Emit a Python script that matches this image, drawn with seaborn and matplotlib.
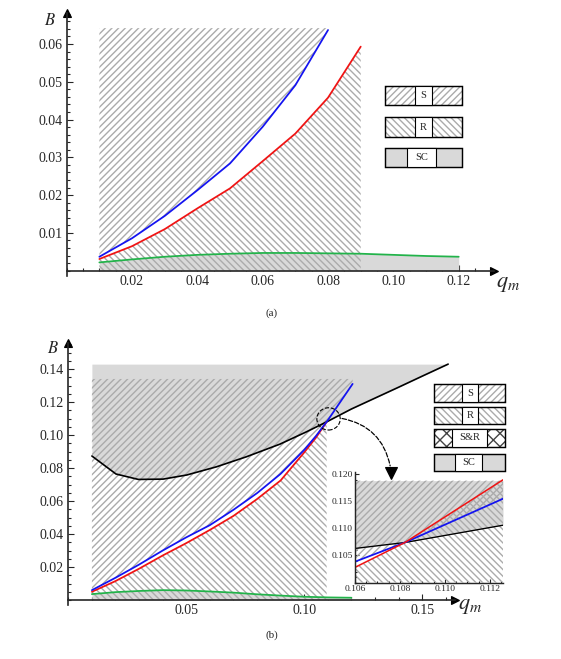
import matplotlib
matplotlib.use("Agg")
import matplotlib.pyplot as plt
import seaborn as sns
from matplotlib.patches import Rectangle, Ellipse, FancyArrowPatch
from matplotlib.ticker import MultipleLocator, FixedLocator, FormatStrFormatter

# ---- panel (a) data ----
QA_BLUE = [0.01, 0.02, 0.03, 0.04, 0.05, 0.06, 0.07, 0.08]
BA_BLUE = [0.0037, 0.0086, 0.0145, 0.0213, 0.0284, 0.0381, 0.0491, 0.0637]
QA_RED = [0.01, 0.02, 0.03, 0.04, 0.05, 0.06, 0.07, 0.08, 0.09]
BA_RED = [0.0031, 0.0065, 0.0110, 0.0165, 0.0218, 0.0290, 0.0363, 0.0458, 0.0593]
QA_GREEN = [0.01, 0.02, 0.03, 0.04, 0.05, 0.06, 0.07, 0.08, 0.09, 0.10, 0.11, 0.12]
BA_GREEN = [0.0022, 0.0030, 0.0037, 0.0042, 0.0045, 0.0047, 0.0047, 0.0046,
            0.0045, 0.0042, 0.0039, 0.0037]
A_S_TOP = 0.0642
A_XTICKS = [0.02, 0.04, 0.06, 0.08, 0.10, 0.12]
A_YTICKS = [0.01, 0.02, 0.03, 0.04, 0.05, 0.06]

# ---- panel (b) data ----
QB_BLUE = [0.01, 0.02, 0.03, 0.04, 0.05, 0.06, 0.07, 0.08, 0.09, 0.10,
           0.105, 0.11, 0.1205]
BB_BLUE = [0.0060, 0.0135, 0.0215, 0.0300, 0.0380, 0.0454, 0.0547, 0.0648,
           0.0765, 0.0910, 0.0995, 0.1090, 0.1310]
QB_RED = [0.01, 0.02, 0.03, 0.04, 0.05, 0.06, 0.07, 0.08, 0.09, 0.10,
          0.105, 0.1095]
BB_RED = [0.0050, 0.0115, 0.0190, 0.0270, 0.0345, 0.0425, 0.0510, 0.0612,
          0.0725, 0.0895, 0.0985, 0.1080]
QB_GREEN = [0.01, 0.02, 0.03, 0.04, 0.05, 0.06, 0.07, 0.08, 0.09, 0.10,
            0.11, 0.12]
BB_GREEN = [0.0036, 0.0048, 0.0055, 0.0060, 0.0058, 0.0052, 0.0045, 0.0035,
            0.0027, 0.0020, 0.0016, 0.0014]
QB_BLACK = [0.01, 0.0202, 0.0297, 0.0402, 0.0502, 0.0629, 0.0756, 0.0897,
            0.101, 0.1095, 0.12, 0.13, 0.14, 0.15, 0.161]
BB_BLACK = [0.0873, 0.0764, 0.0731, 0.0733, 0.0758, 0.0808, 0.0869, 0.0945,
            0.1020, 0.1080, 0.1158, 0.1224, 0.1290, 0.1357, 0.1430]
B_S_TOP = 0.134
B_SC_TOP = 0.143
B_XTICKS = [0.05, 0.10, 0.15]
B_YTICKS = [0.02, 0.04, 0.06, 0.08, 0.10, 0.12, 0.14]

# ---- inset data ----
QI = [0.106, 0.10822, 0.11258]
BI_BLACK = [0.1063, 0.1074, 0.1106]
BI_BLUE = [0.10385, 0.1074, 0.1155]
BI_RED = [0.1028, 0.1074, 0.1190]
I_TOP = 0.11885
I_BOTTOM = 0.100
I_XTICKS = [0.106, 0.108, 0.110, 0.112]
I_YTICKS = [0.105, 0.110, 0.115, 0.120]

BLUE = "#1414f0"
RED = "#f01414"
GREEN = "#22b34a"
GRAY = "#d9d9d9"
HATCH_COLOR = "#ababab"
S_HATCH = "////"
R_HATCH = "\\\\\\\\"

sns.set_style("ticks")
plt.rcParams["font.family"] = "serif"
plt.rcParams["font.serif"] = ["Liberation Serif", "DejaVu Serif"]
plt.rcParams["mathtext.fontset"] = "stix"
plt.rcParams["hatch.linewidth"] = 1.25
plt.rcParams["hatch.color"] = HATCH_COLOR

W, H, DPI = 561, 659, 80
fig = plt.figure(figsize=(W / DPI, H / DPI), dpi=DPI)


def px_axes(left, right, top, bottom):
    return fig.add_axes([left / W, 1 - bottom / H,
                         (right - left) / W, (bottom - top) / H])


def style_axes(ax, lw=1.5, major=5, minor=3, size=12.5):
    for s in ["top", "right"]:
        ax.spines[s].set_visible(False)
    ax.spines["left"].set_linewidth(lw)
    ax.spines["bottom"].set_linewidth(lw)
    ax.tick_params(which="both", direction="in", width=1, labelsize=size)
    ax.tick_params(which="major", length=major, pad=4)
    ax.tick_params(which="minor", length=minor)
    ax.set_facecolor("white")


def axis_arrows(ax):
    ax.plot(1, 0, ">k", ms=7, transform=ax.get_yaxis_transform(), clip_on=False)
    ax.plot(0, 1, "^k", ms=7, transform=ax.get_xaxis_transform(), clip_on=False)


def hatch_fill(ax, x, y1, y2, pattern):
    ax.fill_between(x, y1, y2, facecolor="none", edgecolor=HATCH_COLOR,
                    hatch=pattern, linewidth=0)


def curve(ax, x, y, color, lw=1.6):
    sns.lineplot(x=x, y=y, color=color, lw=lw, ax=ax, sort=False,
                 estimator=None)


# ---------------- panel (a) ----------------
ax_a = px_axes(66.7, 494, 13, 276.4)
ax_a.set_xlim(0, 0.1308)
ax_a.set_ylim(-0.0015, 0.0682)
style_axes(ax_a)
ax_a.spines["bottom"].set_position(("data", 0))

ax_a.fill_between(QA_GREEN, 0, BA_GREEN, color=GRAY, linewidth=0)
hatch_fill(ax_a, QA_BLUE, BA_BLUE, A_S_TOP, S_HATCH)
hatch_fill(ax_a, QA_RED, 0, BA_RED, R_HATCH)
curve(ax_a, QA_GREEN, BA_GREEN, GREEN)
curve(ax_a, QA_RED, BA_RED, RED)
curve(ax_a, QA_BLUE, BA_BLUE, BLUE)

ax_a.xaxis.set_major_locator(FixedLocator(A_XTICKS))
ax_a.xaxis.set_minor_locator(MultipleLocator(0.005))
ax_a.yaxis.set_major_locator(FixedLocator(A_YTICKS))
ax_a.yaxis.set_minor_locator(MultipleLocator(0.002))
ax_a.xaxis.set_major_formatter(FormatStrFormatter("%.2f"))
ax_a.yaxis.set_major_formatter(FormatStrFormatter("%.2f"))
ax_a.set_xlabel("")
ax_a.set_ylabel("")
axis_arrows(ax_a)

# ---------------- panel (b) ----------------
ax_b = px_axes(68.3, 455, 343, 605)
ax_b.set_xlim(0, 0.1639)
ax_b.set_ylim(-0.003, 0.1558)
style_axes(ax_b)
ax_b.spines["bottom"].set_position(("data", 0))

ax_b.fill_between(QB_BLACK, BB_BLACK, B_SC_TOP, color=GRAY, linewidth=0)
ax_b.fill_between(QB_GREEN, 0, BB_GREEN, color=GRAY, linewidth=0)
hatch_fill(ax_b, QB_BLUE, BB_BLUE, B_S_TOP, S_HATCH)
hatch_fill(ax_b, QB_RED, 0, BB_RED, R_HATCH)
curve(ax_b, QB_GREEN, BB_GREEN, GREEN)
curve(ax_b, QB_BLACK, BB_BLACK, "black", lw=1.5)
curve(ax_b, QB_RED, BB_RED, RED)
curve(ax_b, QB_BLUE, BB_BLUE, BLUE)

ax_b.xaxis.set_major_locator(FixedLocator(B_XTICKS))
ax_b.xaxis.set_minor_locator(MultipleLocator(0.01))
ax_b.yaxis.set_major_locator(FixedLocator(B_YTICKS))
ax_b.yaxis.set_minor_locator(MultipleLocator(0.005))
ax_b.xaxis.set_major_formatter(FormatStrFormatter("%.2f"))
ax_b.yaxis.set_major_formatter(FormatStrFormatter("%.2f"))
ax_b.set_xlabel("")
ax_b.set_ylabel("")
axis_arrows(ax_b)

# dashed ellipse around the crossing and the dashed arrow to the inset
ax_b.add_patch(Ellipse((0.1103, 0.1098), 0.0099, 0.0135, fill=False,
                       ls="--", ec="black", lw=1.0, zorder=5))
ax_b.add_patch(FancyArrowPatch((0.1151, 0.1103), (0.1366, 0.0800),
                               connectionstyle="arc3,rad=-0.35",
                               arrowstyle="-", ls="--", lw=1.1,
                               color="black", clip_on=False, zorder=6))
ax_b.plot(0.1368, 0.0772, marker="v", ms=10, color="black", clip_on=False,
          zorder=7)

# ---------------- inset ----------------
ax_i = px_axes(355, 503, 471.7, 582.5)
ax_i.set_xlim(0.106, 0.11258)
ax_i.set_ylim(I_BOTTOM, 0.1205)
style_axes(ax_i, lw=1.3, major=4, minor=2, size=8.5)
ax_i.set_facecolor("none")
ax_i.tick_params(which="major", pad=2)
ax_i.fill_between(QI, BI_BLACK, I_TOP, color=GRAY, linewidth=0)
hatch_fill(ax_i, QI, BI_BLUE, I_TOP, S_HATCH)
hatch_fill(ax_i, QI, I_BOTTOM, BI_RED, R_HATCH)
curve(ax_i, QI, BI_BLACK, "black", lw=1.2)
curve(ax_i, QI, BI_BLUE, BLUE)
curve(ax_i, QI, BI_RED, RED, lw=1.4)
ax_i.xaxis.set_major_locator(FixedLocator(I_XTICKS))
ax_i.xaxis.set_minor_locator(MultipleLocator(0.0005))
ax_i.yaxis.set_major_locator(FixedLocator(I_YTICKS))
ax_i.yaxis.set_minor_locator(MultipleLocator(0.001))
ax_i.xaxis.set_major_formatter(FormatStrFormatter("%.3f"))
ax_i.yaxis.set_major_formatter(FormatStrFormatter("%.3f"))
ax_i.set_xlabel("")
ax_i.set_ylabel("")

# ---------------- overlay: legends and labels ----------------
ov = fig.add_axes([0, 0, 1, 1])
ov.set_xlim(0, W)
ov.set_ylim(H, 0)
ov.axis("off")


def legend_box(x0, x1, y0, y1, ix0, ix1, label, kind):
    w, h = x1 - x0, y1 - y0
    ov.add_patch(Rectangle((x0, y0), w, h, facecolor=GRAY if kind == "SC" else "white",
                           edgecolor="none"))
    if kind == "S":
        ov.add_patch(Rectangle((x0, y0), w, h, facecolor="none",
                               edgecolor=HATCH_COLOR, hatch=S_HATCH, lw=0))
    elif kind == "R":
        ov.add_patch(Rectangle((x0, y0), w, h, facecolor="none",
                               edgecolor=HATCH_COLOR, hatch=R_HATCH, lw=0))
    elif kind == "SR":
        ov.add_patch(Rectangle((x0, y0), w, h, facecolor="none",
                               edgecolor="#444444", hatch="xx", lw=0))
    ov.add_patch(Rectangle((x0, y0), w, h, fill=False, edgecolor="black", lw=1.3))
    ov.add_patch(Rectangle((ix0, y0), ix1 - ix0, h, facecolor="white",
                           edgecolor="black", lw=1.0))
    ov.text((ix0 + ix1) / 2, (y0 + y1) / 2, label, ha="center", va="center",
            fontsize=9.5)


legend_box(385, 462.5, 86, 105, 415, 432, "S", "S")
legend_box(385, 462.5, 117, 137, 415, 432, "R", "R")
legend_box(385, 462.5, 148, 167, 407, 436, "SC", "SC")

legend_box(434, 505, 384, 402, 462, 478, "S", "S")
legend_box(434, 505, 407, 424, 462, 478, "R", "R")
legend_box(434, 505, 429, 447, 452, 487, "S&R", "SR")
legend_box(434, 505, 454, 471, 455, 482, "SC", "SC")

ov.text(50, 21, "$B$", fontsize=15, ha="center", va="center")
ov.text(508, 284, "$q_m$", fontsize=20, ha="center", va="center")
ov.text(272, 313, "(a)", fontsize=10, ha="center", va="center")
ov.text(53, 349, "$B$", fontsize=15, ha="center", va="center")
ov.text(470, 607, "$q_m$", fontsize=20, ha="center", va="center")
ov.text(272, 635, "(b)", fontsize=10, ha="center", va="center")

fig.savefig("out.png", dpi=DPI)
